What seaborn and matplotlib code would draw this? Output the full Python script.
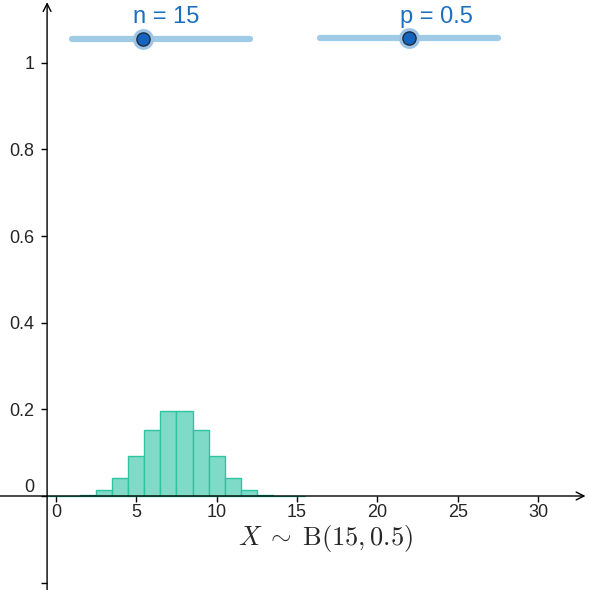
import numpy as np
import pandas as pd
import matplotlib
matplotlib.use("Agg")
import matplotlib.pyplot as plt
from matplotlib.lines import Line2D
import seaborn as sns

# ==========================================
# dados: B(15, 0.5)
# ==========================================
n_val = 15
p_val = 0.5
k_vals = list(range(16))
probs = [0.00003, 0.00046, 0.0032, 0.0139, 0.0417, 0.0916, 0.1527, 0.1964,
         0.1964, 0.1527, 0.0916, 0.0417, 0.0139, 0.0032, 0.00046, 0.00003]
x_ticks = [0, 5, 10, 15, 20, 25, 30]
y_ticks = [-0.2, 0, 0.2, 0.4, 0.6, 0.8, 1]
y_labels = ["", "0", "0.2", "0.4", "0.6", "0.8", "1"]

df = pd.DataFrame({"k": k_vals, "prob": probs})

sns.set_theme(style="white")
plt.rcParams["font.family"] = ["Liberation Sans", "DejaVu Sans"]
plt.rcParams["mathtext.fontset"] = "cm"

fig = plt.figure(figsize=(5.9, 5.9), dpi=100)
ax = fig.add_axes([0, 0, 1, 1])

sns.histplot(data=df, x="k", weights="prob", discrete=True, ax=ax,
             color="#7fdac8", edgecolor="#2ec4a0", linewidth=1, alpha=1)

ax.set_xlim(-3.48, 33.23)
ax.set_ylim(-0.217, 1.145)

# eixos estilo GeoGebra
for s in ["top", "right"]:
    ax.spines[s].set_visible(False)
ax.spines["bottom"].set_position(("data", 0))
ax.spines["left"].set_position(("data", -0.55))
ax.spines["bottom"].set_visible(False)
ax.spines["left"].set_visible(False)
ax.annotate("", xy=(32.95, 0), xytext=(-3.6, 0),
            arrowprops=dict(arrowstyle="->", lw=1, color="black",
                            shrinkA=0, shrinkB=0, mutation_scale=14))
ax.annotate("", xy=(-0.55, 1.14), xytext=(-0.55, -0.25),
            arrowprops=dict(arrowstyle="->", lw=1, color="black",
                            shrinkA=0, shrinkB=0, mutation_scale=14))

ax.set_xticks(x_ticks)
ax.set_xticklabels([str(t) for t in x_ticks])
ax.set_yticks(y_ticks)
ax.set_yticklabels(y_labels)
ax.tick_params(axis="both", direction="out", length=4, width=1, color="black",
               labelsize=13, bottom=True, left=True)
ax.tick_params(axis="x", pad=2)
ax.tick_params(axis="y", pad=5)
for lab in ax.get_yticklabels():
    if lab.get_text() == "0":
        lab.set_va("bottom")
ax.set_xlabel("")
ax.set_ylabel("")

ax.text(16.80, -0.097, r"$X\;\sim\;\mathrm{B}(15, 0.5)$", fontsize=19,
        ha="center", va="center")

# sliders
def slider(x0, x1, xp, y, label, xl):
    fig.add_artist(Line2D([x0, x1], [y, y], transform=fig.transFigure,
                          color="#a0cbe6", lw=4.5, solid_capstyle="round"))
    fig.add_artist(Line2D([xp], [y], transform=fig.transFigure, marker="o",
                          markersize=15, color="#9dc3e6", markeredgewidth=0))
    fig.add_artist(Line2D([xp], [y], transform=fig.transFigure, marker="o",
                          markersize=9.5, markerfacecolor="#1565c0",
                          markeredgecolor="#1f2d3d", markeredgewidth=1))
    fig.text(xl, 0.972, label, fontsize=17, color="#1a6fbf",
             ha="center", va="center")

slider(0.122, 0.424, 0.242, 0.934, f"n = {n_val}", 0.281)
slider(0.542, 0.844, 0.693, 0.936, f"p = {p_val}", 0.739)

fig.savefig("out.png", dpi=100)
